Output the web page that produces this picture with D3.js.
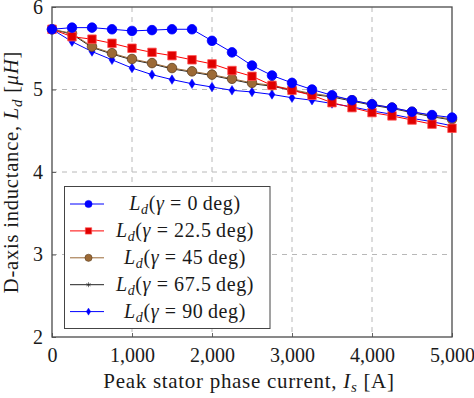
<!DOCTYPE html>
<html>
<head>
<meta charset="utf-8">
<script src="https://cdn.jsdelivr.net/npm/d3@7"></script>
<style>
  body { margin: 0; background: #fff; }
  svg text { font-family: "Liberation Serif", "DejaVu Serif", serif; fill: #1a1a1a; }
</style>
</head>
<body>
<div id="chart"></div>
<script>
// peak stator phase current [A]
const current = [0, 250, 500, 750, 1000, 1250, 1500, 1750, 2000, 2250, 2500,
  2750, 3000, 3250, 3500, 3750, 4000, 4250, 4500, 4750, 5000];

// D-axis inductance [uH] per current angle
const ld0 = [5.73, 5.75, 5.75, 5.73, 5.71, 5.72, 5.73, 5.73, 5.59, 5.45, 5.29,
  5.17, 5.08, 5.00, 4.93, 4.87, 4.82, 4.78, 4.73, 4.69, 4.66];
const ld225 = [5.73, 5.64, 5.61, 5.56, 5.50, 5.45, 5.41, 5.36, 5.31, 5.23, 5.16,
  5.05, 4.99, 4.93, 4.84, 4.78, 4.72, 4.68, 4.63, 4.58, 4.53];
const ld45 = [5.73, 5.68, 5.52, 5.44, 5.37, 5.32, 5.26, 5.22, 5.18, 5.13, 5.08,
  5.05, 5.00, 4.95, 4.92, 4.87, 4.82, 4.78, 4.73, 4.68, 4.64];
const ld675 = [5.73, 5.67, 5.51, 5.43, 5.36, 5.31, 5.25, 5.21, 5.17, 5.12, 5.07,
  5.04, 4.99, 4.94, 4.91, 4.86, 4.81, 4.77, 4.72, 4.67, 4.63];
const ld90 = [5.73, 5.58, 5.46, 5.36, 5.26, 5.18, 5.12, 5.07, 5.03, 4.99, 4.97,
  4.94, 4.90, 4.87, 4.83, 4.79, 4.74, 4.70, 4.65, 4.61, 4.56];

const angles = ["0", "22.5", "45", "67.5", "90"];
const xTicks = [0, 1000, 2000, 3000, 4000, 5000];
const yTicks = [2, 3, 4, 5, 6];

const series = [
  { vals: ld0, line: "#0000ff", fill: "#0000ff", stroke: "#0000ff", mark: "circle" },
  { vals: ld225, line: "#ff0000", fill: "#e00000", stroke: "#ff5050", mark: "square" },
  { vals: ld45, line: "#9a6a38", fill: "#9c6a36", stroke: "#5e3f20", mark: "circle" },
  { vals: ld675, line: "#222222", fill: "#222222", stroke: "#222222", mark: "star" },
  { vals: ld90, line: "#0000ff", fill: "#0000ff", stroke: "#0000ff", mark: "diamond" }
];

const width = 474, height = 398;
const svg = d3.select("#chart").append("svg")
  .attr("width", width).attr("height", height);

const x = d3.scaleLinear().domain([0, 5000]).range([52, 452]);
const y = d3.scaleLinear().domain([2, 6]).range([337, 7]);

// grid
svg.append("g").selectAll("line")
  .data(xTicks.slice(1, -1)).join("line")
  .attr("x1", d => x(d)).attr("x2", d => x(d))
  .attr("y1", y(6)).attr("y2", y(2))
  .attr("stroke", "#b8b8b8").attr("stroke-dasharray", "5,5");
svg.append("g").selectAll("line")
  .data(yTicks.slice(1, -1)).join("line")
  .attr("y1", d => y(d)).attr("y2", d => y(d))
  .attr("x1", x(0)).attr("x2", x(5000))
  .attr("stroke", "#b8b8b8").attr("stroke-dasharray", "5,5");

// axes
const fmt = d3.format(",");
const xAxis = svg.append("g").attr("transform", `translate(0,${y(2)})`)
  .call(d3.axisBottom(x).tickValues(xTicks).tickFormat(fmt).tickSize(-4).tickPadding(8));
const yAxis = svg.append("g").attr("transform", `translate(${x(0)},0)`)
  .call(d3.axisLeft(y).tickValues(yTicks).tickFormat(d3.format("d")).tickSize(-4).tickPadding(9));
[xAxis, yAxis].forEach(a => {
  a.attr("font-family", null).attr("font-size", null);
  a.select(".domain").remove();
  a.selectAll(".tick line").attr("stroke", "#666");
  a.selectAll(".tick text").attr("font-size", 20).attr("fill", "#1a1a1a");
});
xAxis.selectAll(".tick text").attr("dy", null).attr("y", 25);

// frame
svg.append("rect")
  .attr("x", x(0)).attr("y", y(6))
  .attr("width", x(5000) - x(0)).attr("height", y(2) - y(6))
  .attr("fill", "none").attr("stroke", "#4a4a4a").attr("stroke-width", 1.3);

// marker drawing
const symbols = {
  circle: d3.symbol().type(d3.symbolCircle).size(72),
  square: d3.symbol().type(d3.symbolSquare).size(72),
  star: d3.symbol().type(d3.symbolAsterisk).size(30),
  diamond: d3.symbol().type(d3.symbolDiamond2).size(40)
};
function drawMark(g, s, k) {
  const p = g.append("path").attr("d", symbols[s.mark]());
  if (s.mark === "star") {
    p.attr("fill", "none").attr("stroke", s.stroke).attr("stroke-width", 0.8)
      .attr("transform", `scale(${k})`);
  } else if (s.mark === "diamond") {
    p.attr("fill", s.fill).attr("stroke", s.stroke).attr("stroke-width", 0.5)
      .attr("transform", `scale(${0.75 * k},${1.2 * k})`);
  } else {
    p.attr("fill", s.fill).attr("stroke", s.stroke).attr("stroke-width", 0.8)
      .attr("transform", `scale(${k})`);
  }
  return p;
}

const line = d3.line().x((d, i) => x(current[i])).y(d => y(d));

// draw in reverse so the 0 deg series sits on top
series.slice().reverse().forEach(s => {
  const g = svg.append("g");
  g.append("path").datum(s.vals)
    .attr("d", line).attr("fill", "none")
    .attr("stroke", s.line).attr("stroke-width", 1);
  s.vals.forEach((v, i) => {
    const m = g.append("g").attr("transform", `translate(${x(current[i])},${y(v)})`);
    drawMark(m, s, 1);
  });
});

// legend
const leg = svg.append("g");
leg.append("rect")
  .attr("x", 64.5).attr("y", 186.5).attr("width", 205.5).attr("height", 142)
  .attr("fill", "#fff").attr("stroke", "#444").attr("stroke-width", 1);
series.forEach((s, i) => {
  const ly = 204 + i * 26.9;
  leg.append("line").attr("x1", 70).attr("x2", 104)
    .attr("y1", ly).attr("y2", ly).attr("stroke", s.line).attr("stroke-width", 1);
  const m = leg.append("g").attr("transform", `translate(88.5,${ly})`);
  drawMark(m, s, 0.75);
  const t = leg.append("text").attr("x", 185).attr("y", ly + 6)
    .attr("text-anchor", "middle").attr("font-size", 20)
    .attr("letter-spacing", 0.6);
  t.append("tspan").attr("font-style", "italic").text("L");
  t.append("tspan").attr("font-style", "italic").attr("font-size", 14).attr("dy", 4).text("d");
  t.append("tspan").attr("dy", -4).text("(");
  t.append("tspan").attr("font-style", "italic").text("γ");
  t.append("tspan").text(` = ${angles[i]}\u2009deg)`);
});

// axis titles
const xt = svg.append("text").attr("x", 249).attr("y", 388)
  .attr("text-anchor", "middle").attr("font-size", 21).attr("letter-spacing", 0.7);
xt.append("tspan").text("Peak stator phase current, ");
xt.append("tspan").attr("font-style", "italic").text("I");
xt.append("tspan").attr("font-style", "italic").attr("font-size", 15).attr("dy", 4).text("s");
xt.append("tspan").attr("dy", -4).text(" [A]");

const yt = svg.append("text")
  .attr("transform", `translate(18,${y(4)}) rotate(-90)`)
  .attr("text-anchor", "middle").attr("font-size", 20.5).attr("letter-spacing", 0.8);
yt.append("tspan").text("D-axis inductance, ");
yt.append("tspan").attr("font-style", "italic").text("L");
yt.append("tspan").attr("font-style", "italic").attr("font-size", 15).attr("dy", 4).text("d");
yt.append("tspan").attr("dy", -4).text(" [");
yt.append("tspan").attr("font-style", "italic").text("μH");
yt.append("tspan").text("]");
</script>
</body>
</html>
